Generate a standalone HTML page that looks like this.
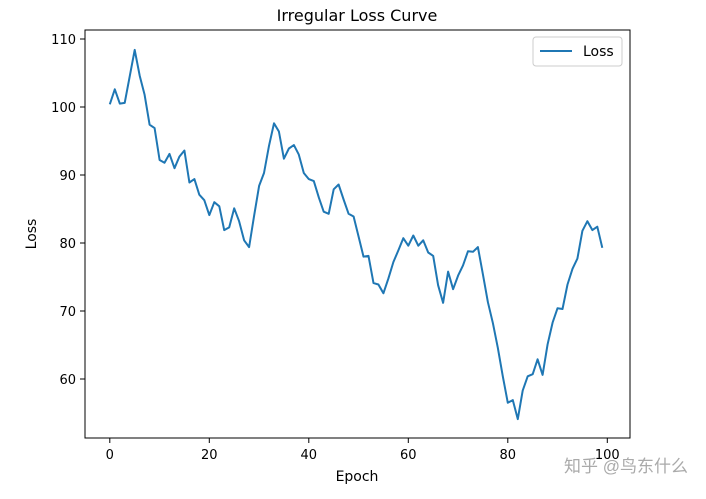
<!DOCTYPE html>
<html><head><meta charset="utf-8"><style>
body{margin:0;background:#fff;width:706px;height:495px;overflow:hidden;font-family:"DejaVu Sans","Liberation Sans",sans-serif}
</style></head><body>
<svg width="706" height="495" xmlns="http://www.w3.org/2000/svg">
<text x="357" y="21" text-anchor="middle" font-size="16" fill="#000">Irregular Loss Curve</text>
<g id="ticks"></g>
<polyline id="line" fill="none" stroke="#1f77b4" stroke-width="2" stroke-linejoin="round"/>
<rect x="85" y="30" width="545" height="408" fill="none" stroke="#000" stroke-width="1"/>
<text x="357" y="481" text-anchor="middle" font-size="14">Epoch</text>
<text x="0" y="0" text-anchor="middle" font-size="14" transform="translate(36,234) rotate(-90)">Loss</text>
<g>
<rect x="533" y="37" width="89" height="29" rx="3" fill="#fff" stroke="#ccc"/>
<line x1="540" y1="51" x2="572" y2="51" stroke="#1f77b4" stroke-width="2"/>
<text x="583" y="56" font-size="14">Loss</text>
</g>
<text x="688" y="472" text-anchor="end" font-size="17" fill="#aaa" font-family="'Liberation Sans','Noto Sans CJK SC',sans-serif">知乎 @鸟东什么</text>
</svg>
<script>
const losses=[100.4,102.6,100.5,100.6,104.5,108.4,104.6,101.8,97.4,96.9,92.2,91.8,93.1,91.0,92.7,93.6,88.9,89.4,87.1,86.3,84.1,86.0,85.4,81.9,82.3,85.1,83.2,80.4,79.4,84.0,88.4,90.3,94.3,97.6,96.4,92.4,93.9,94.4,93.0,90.3,89.4,89.1,86.7,84.6,84.3,87.9,88.6,86.4,84.3,83.9,81.0,78.0,78.1,74.1,73.9,72.6,74.8,77.2,78.9,80.7,79.6,81.1,79.6,80.4,78.6,78.1,73.8,71.2,75.8,73.2,75.2,76.7,78.8,78.7,79.4,75.4,71.3,68.2,64.6,60.4,56.5,56.9,54.1,58.3,60.4,60.7,62.9,60.6,65.1,68.3,70.4,70.3,73.9,76.2,77.7,81.8,83.2,81.9,82.4,79.3];
const xTicks=[0,20,40,60,80,100];
const yTicks=[60,70,80,90,100,110];
const xs=v=>109.8+v*4.975;
const ys=v=>379-(v-60)*6.8;
const ns="http://www.w3.org/2000/svg";
const line=document.getElementById('line');
line.setAttribute('points',losses.map((v,i)=>xs(i).toFixed(1)+','+ys(v).toFixed(1)).join(' '));
const g=document.getElementById('ticks');
xTicks.forEach(t=>{
 const l=document.createElementNS(ns,'line');
 l.setAttribute('x1',xs(t));l.setAttribute('x2',xs(t));l.setAttribute('y1',438);l.setAttribute('y2',443);l.setAttribute('stroke','#000');
 
 
 g.appendChild(l);
 const tx=document.createElementNS(ns,'text');
 tx.setAttribute('x',xs(t));tx.setAttribute('y',459);tx.setAttribute('text-anchor','middle');tx.setAttribute('font-size','13');
 tx.textContent=t;
 
 
 g.appendChild(tx);
});
yTicks.forEach(t=>{
 const l=document.createElementNS(ns,'line');
 l.setAttribute('x1',80);l.setAttribute('x2',85);l.setAttribute('y1',ys(t));l.setAttribute('y2',ys(t));l.setAttribute('stroke','#000');
 
 
 g.appendChild(l);
 const tx=document.createElementNS(ns,'text');
 tx.setAttribute('x',76);tx.setAttribute('y',ys(t)+5);tx.setAttribute('text-anchor','end');tx.setAttribute('font-size','13');
 tx.textContent=t;
 
 
 g.appendChild(tx);
});
</script>
</body></html>
